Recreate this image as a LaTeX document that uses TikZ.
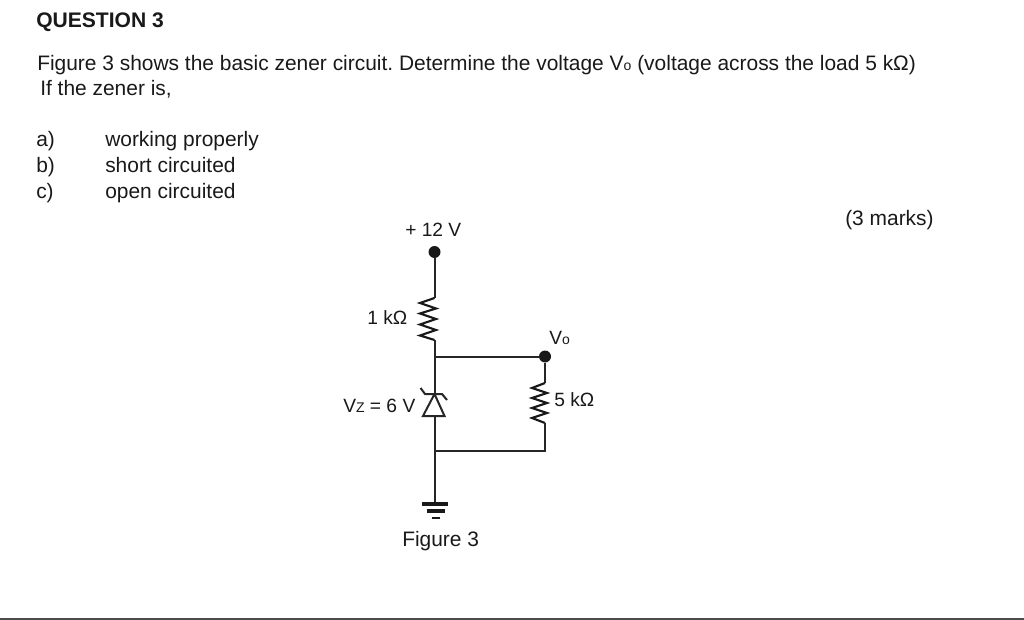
\documentclass[tikz,border=0pt]{standalone}
\usepackage{fontspec}
\setmainfont{Liberation Sans}
\newcommand{\lowtext}[1]{{\fontsize{10.5pt}{12pt}\selectfont #1}}
\frenchspacing
\tikzset{
	wire/.style={line width=1.5pt,black!85},
	zigzag/.style={line width=1.6pt,black!90,line join=miter},
	dot/.style={circle,fill=black!90,inner sep=0pt,minimum size=9pt},
	txt/.style={anchor=base west,inner sep=0pt,text=black!90,font=\fontsize{15.7pt}{18pt}\selectfont},
	lbl/.style={txt,font=\fontsize{14.4pt}{18pt}\selectfont},
	rule/.style={line width=1pt,black!70}
}
\begin{document}
\begin{tikzpicture}[x=.75pt,y=-.75pt]
	\useasboundingbox (0,0) rectangle (1024,620);
	\node[txt,font=\fontsize{15.8pt}{18pt}\selectfont\bfseries] (title) at (36,28) {QUESTION 3};
	\node[txt] (line1) at (37,70.5) {Figure 3 shows the basic zener circuit. Determine the voltage V\lowtext{o} (voltage across the load 5 kΩ)};
	\node[txt] (line2) at (40,95.5) {If the zener is,};
	\node[txt] (a) at (36,147) {a)};
	\node[txt] (atext) at (105,147) {working properly};
	\node[txt] (b) at (36,173) {b)};
	\node[txt] (btext) at (105,173) {short circuited};
	\node[txt] (c) at (36,199) {c)};
	\node[txt] (ctext) at (105,199) {open circuited};
	\node[txt] (marks) at (845,226) {(3 marks)};
	% circuit
	\node[dot] (supply) at (434.5,252) {};
	\node[dot] (vout) at (545,356.5) {};
	\coordinate (rtop) at (434.5,298);
	\coordinate (rbot) at (434.5,340);
	\coordinate (junctop) at (434.5,356.5);
	\coordinate (ztop) at (434.5,394);
	\coordinate (zbot) at (434.5,416);
	\coordinate (junclow) at (434.5,451);
	\coordinate (gnd) at (434.5,504);
	\coordinate (ltop) at (545,383);
	\coordinate (lbot) at (545,423);
	\coordinate (lowright) at (545,451);
	\draw[wire] (supply) -- (rtop);
	\draw[zigzag] (rtop) -- ++(-14.5,5) -- ++(16,5.5) -- ++(-16,5) -- ++(16,5.5) -- ++(-16,5.5) -- ++(16,5.5) -- ++(-16,5.5) -- (rbot);
	\draw[wire] (rbot) -- (junctop) -- (ztop);
	\draw[wire] (junctop) -- (vout);
	\draw[wire] (vout) -- (ltop);
	\draw[zigzag] (ltop) -- ++(-13,5) -- ++(15,5) -- ++(-15,5) -- ++(15,5) -- ++(-15,5) -- ++(15,5) -- ++(-15,5) -- (lbot);
	\draw[wire] (lbot) -- (lowright) -- (junclow);
	\draw[wire] (zbot) -- (junclow) -- (gnd);
	\draw[wire,line join=miter] (ztop) -- ++(-11.5,22) -- ++(21.5,0) -- cycle;
	\draw[wire] (ztop) ++(-14,-6) -- ++(4.5,6) -- ++(17,0) -- ++(5,6);
	\draw[line width=2.6pt,black!90] (gnd) ++(-13,0) -- ++(26,0);
	\draw[line width=2.4pt,black!90] (gnd) ++(-8,7) -- ++(18,0);
	\draw[line width=2pt,black!90] (gnd) ++(-3,14) -- ++(8,0);
	\node[lbl] (vcc) at (405,237) {+ 12 V};
	\node[lbl] (rlabel) at (367,324) {1 kΩ};
	\node[lbl] (volabel) at (549,344) {V\lowtext{o}};
	\node[lbl] (zlabel) at (343,412.5) {V\lowtext{Z} = 6 V};
	\node[lbl] (llabel) at (554,406) {5 kΩ};
	\node[txt] (caption) at (402,546) {Figure 3};
	\coordinate (ruleleft) at (0,619);
	\coordinate (ruleright) at (1024,619);
	\draw[rule] (ruleleft) -- (ruleright);
\end{tikzpicture}
\end{document}
